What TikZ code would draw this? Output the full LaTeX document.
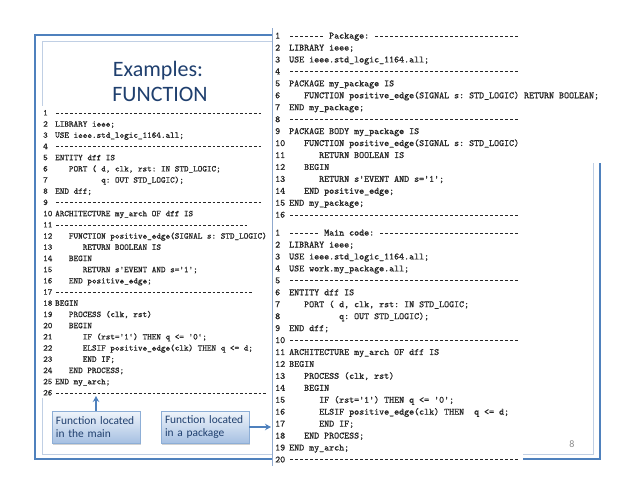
\documentclass[tikz,border=0pt]{standalone}
\usepackage{fontspec}
\setmainfont{Carlito}
\setmonofont{lmmono10-regular}[Extension=.otf, FakeBold=0.9]
\usetikzlibrary{shadows,arrows.meta}
\newcommand\onedash{\hbox to 0.525em{\hss\vrule width 0.3em height 0.31em depth -0.23em\hss}}
\ExplSyntaxOn
\cs_new:Npn \mydash #1 {\prg_replicate:nn{#1}{\onedash}}
\ExplSyntaxOff
\definecolor{frameblue}{HTML}{4F81BD}
\definecolor{innerline}{HTML}{C0CFE4}
\definecolor{titleblue}{HTML}{1F3F6E}
\definecolor{codegray}{HTML}{262626}
\definecolor{sepline}{HTML}{8FA9CE}
\definecolor{boxtop}{HTML}{F0F5FB}
\definecolor{boxbot}{HTML}{A6C0E2}
\definecolor{boxedge}{HTML}{8DAED6}
\definecolor{pagegray}{HTML}{8C8C8C}
\begin{document}
\begin{tikzpicture}[x=1pt,y=-1pt,
  codeL/.style={anchor=north west, inner sep=0pt, text=codegray, font=\fontsize{8.76}{11.2}\selectfont\ttfamily},
  codeR/.style={anchor=north west, inner sep=0pt, text=codegray, font=\fontsize{9.52}{11.94}\selectfont\ttfamily},
  titletext/.style={font=\fontsize{22}{26}\selectfont, text=titleblue, anchor=base, inner sep=0pt},
  callout/.style={draw=boxedge, line width=0.8pt, top color=boxtop, bottom color=boxbot,
    minimum width=88pt, minimum height=32pt, inner sep=0pt, text width=80pt, align=left,
    font=\fontsize{11.4}{12.5}\selectfont, text=titleblue,
    drop shadow={opacity=0.35, shadow xshift=1.2pt, shadow yshift=-1.5pt}},
  pointer/.style={draw=frameblue, line width=1.8pt, -{Stealth[length=6pt,width=6.5pt]}}
]
\useasboundingbox (0,0) rectangle (638,493);
\fill[white] (0,0) rectangle (638,493);
% slide frame
\draw[frameblue, line width=1.8pt] (35,35) rectangle (600,459);
\draw[innerline, line width=0.9pt] (42,41) rectangle (593,454);
% pasted code images
\fill[white] (39,106) rectangle (271,398);
\fill[white] (272,28) rectangle (612,163);
\fill[white] (272,163) rectangle (523,466);
\draw[sepline, line width=1pt] (272,28) -- (272,466);
% title
\node[titletext] (t1) at (158,76) {Examples:};
\node[titletext] (t2) at (160,101.7) {FUNCTION};
% left code
\node[codeL] (leftcode) at (43,107.4) {\begin{tabular}{@{}p{12pt}@{}l@{}}
1 & \mydash{45}\\
2 & LIBRARY ieee;\\
3 & USE ieee.std\_logic\_1164.all;\\
4 & \mydash{45}\\
5 & ENTITY dff IS\\
6 & ~~~PORT ( d, clk, rst: IN STD\_LOGIC;\\
7 & ~~~~~~~~~~q: OUT STD\_LOGIC);\\
8 & END dff;\\
9 & \mydash{45}\\
10 & ARCHITECTURE my\_arch OF dff IS\\
11 & \mydash{42}\\
12 & ~~~FUNCTION positive\_edge(SIGNAL s: STD\_LOGIC)\\
13 & ~~~~~~RETURN BOOLEAN IS\\
14 & ~~~BEGIN\\
15 & ~~~~~~RETURN s'EVENT AND s='1';\\
16 & ~~~END positive\_edge;\\
17 & \mydash{43}\\
18 & BEGIN\\
19 & ~~~PROCESS (clk, rst)\\
20 & ~~~BEGIN\\
21 & ~~~~~~IF (rst='1') THEN q <= '0';\\
22 & ~~~~~~ELSIF positive\_edge(clk) THEN q <= d;\\
23 & ~~~~~~END IF;\\
24 & ~~~END PROCESS;\\
25 & END my\_arch;\\
26 & \mydash{46}
\end{tabular}};
% right upper code (package)
\node[codeR] (pkgcode) at (275,30) {\begin{tabular}{@{}p{14pt}@{}l@{}}
1 & \mydash{7} Package: \mydash{29}\\
2 & LIBRARY ieee;\\
3 & USE ieee.std\_logic\_1164.all;\\
4 & \mydash{46}\\
5 & PACKAGE my\_package IS\\
6 & ~~~FUNCTION positive\_edge(SIGNAL s: STD\_LOGIC) RETURN BOOLEAN;\\
7 & END my\_package;\\
8 & \mydash{46}\\
9 & PACKAGE BODY my\_package IS\\
10 & ~~~FUNCTION positive\_edge(SIGNAL s: STD\_LOGIC)\\
11 & ~~~~~~RETURN BOOLEAN IS\\
12 & ~~~BEGIN\\
13 & ~~~~~~RETURN s'EVENT AND s='1';\\
14 & ~~~END positive\_edge;\\
15 & END my\_package;\\
16 & \mydash{46}
\end{tabular}};
% right lower code (main)
\node[codeR] (maincode) at (275,227) {\begin{tabular}{@{}p{14pt}@{}l@{}}
1 & \mydash{6} Main code: \mydash{28}\\
2 & LIBRARY ieee;\\
3 & USE ieee.std\_logic\_1164.all;\\
4 & USE work.my\_package.all;\\
5 & \mydash{46}\\
6 & ENTITY dff IS\\
7 & ~~~PORT ( d, clk, rst: IN STD\_LOGIC;\\
8 & ~~~~~~~~~~q: OUT STD\_LOGIC);\\
9 & END dff;\\
10 & \mydash{46}\\
11 & ARCHITECTURE my\_arch OF dff IS\\
12 & BEGIN\\
13 & ~~~PROCESS (clk, rst)\\
14 & ~~~BEGIN\\
15 & ~~~~~~IF (rst='1') THEN q <= '0';\\
16 & ~~~~~~ELSIF positive\_edge(clk) THEN~~q <= d;\\
17 & ~~~~~~END IF;\\
18 & ~~~END PROCESS;\\
19 & END my\_arch;\\
20 & \mydash{46}
\end{tabular}};
% callouts
\node[callout] (c1) at (96,427) {Function located\\in the main};
\node[callout] (c2) at (205,427) {Function located\\in a package};
\coordinate (p1) at (96,396);
\coordinate (p2) at (271,427);
\draw[pointer] (c1.north) -- (p1);
\draw[pointer] (c2.east) -- (p2);
% page number
\node[font=\fontsize{10}{12}\selectfont, text=pagegray, inner sep=0pt] (pg) at (572,444) {8};
\end{tikzpicture}
\end{document}
